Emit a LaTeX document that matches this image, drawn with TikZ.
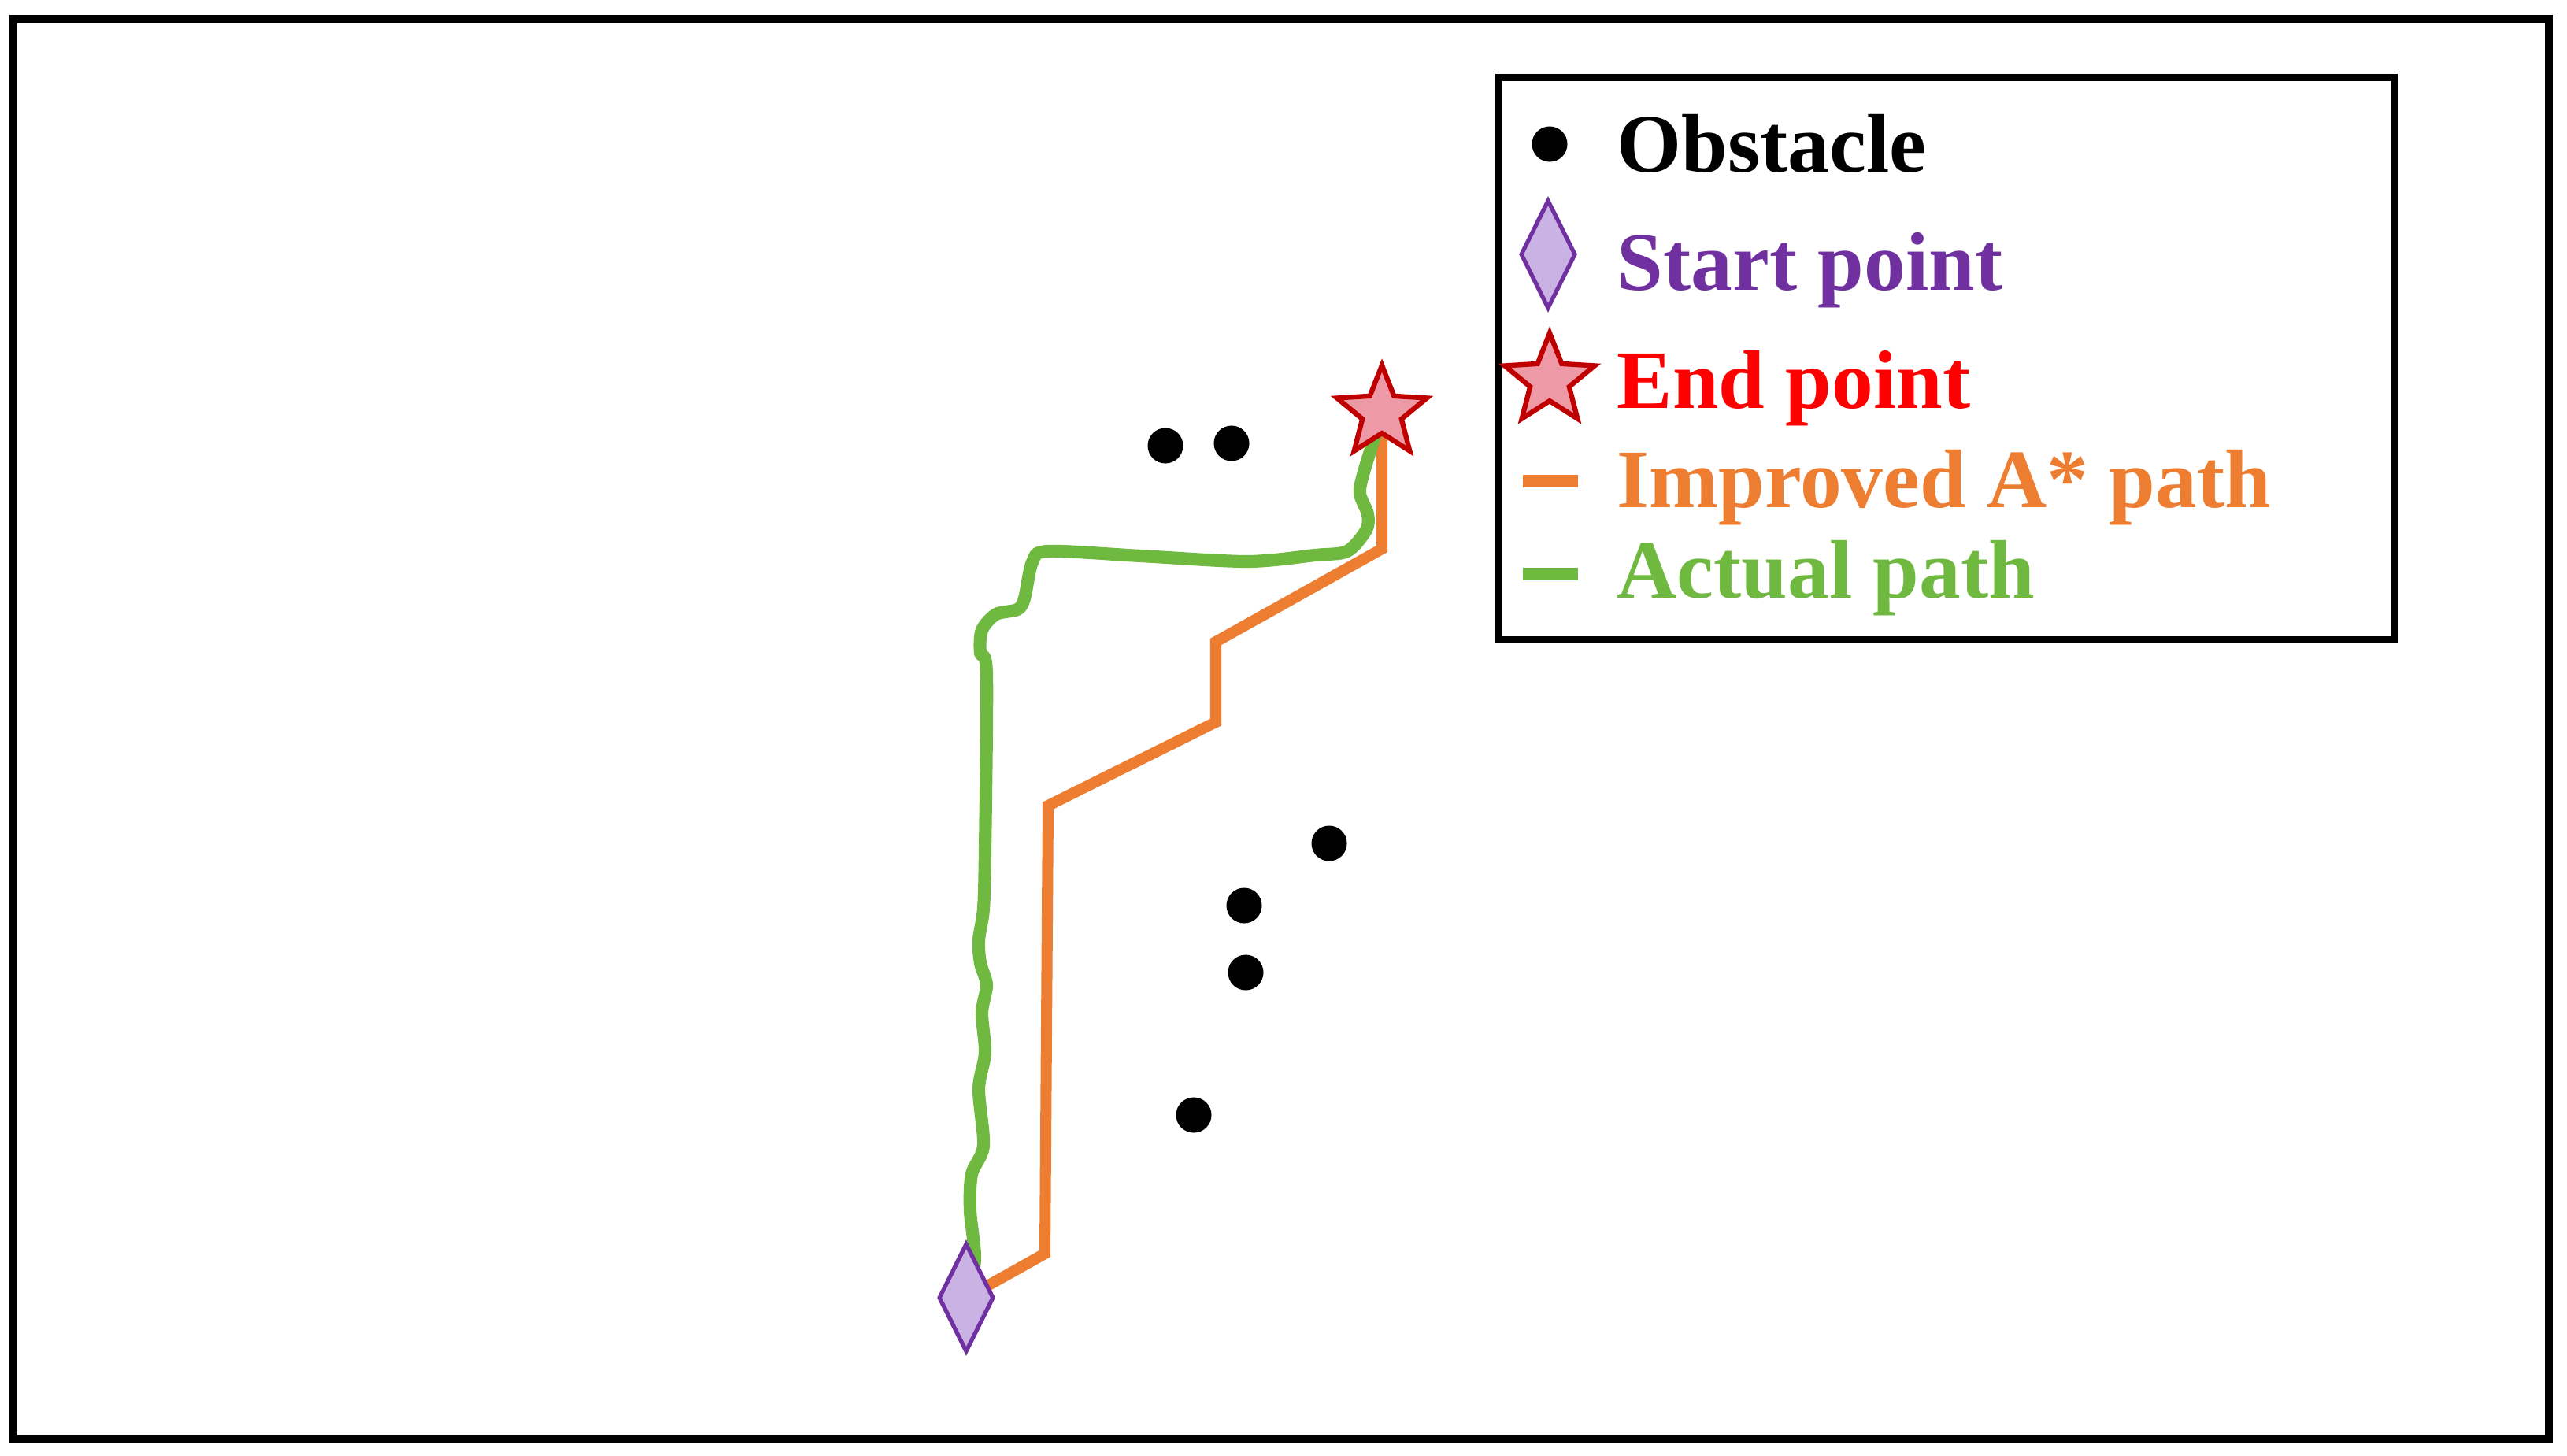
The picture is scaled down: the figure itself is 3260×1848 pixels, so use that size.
\documentclass[tikz,border=0pt]{standalone}
\usepackage{fontspec}
\setmainfont{Liberation Serif}
\usetikzlibrary{shapes.geometric,backgrounds}
\definecolor{pathorange}{HTML}{ED7D31}
\definecolor{pathgreen}{HTML}{70B941}
\definecolor{startline}{HTML}{7030A0}
\definecolor{startfill}{HTML}{CBB2E4}
\definecolor{endline}{HTML}{C00000}
\definecolor{endfill}{HTML}{EE9AA6}
\begin{document}
\begin{tikzpicture}[x=0.01cm,y=-0.01cm,
  obst/.style={circle, fill=black, inner sep=0pt, minimum size=0.45cm},
  startpt/.style={diamond, draw=startline, fill=startfill, line width=1.5pt, inner sep=0pt, minimum width=0.7cm, minimum height=1.38cm},
  endpt/.style={star, star points=5, star point ratio=2.3, draw=endline, fill=endfill, line width=1.8pt, inner sep=0pt, minimum size=1.2cm},
  legtext/.style={anchor=base west, inner sep=0pt, font=\fontsize{30}{36}\selectfont\bfseries},
  astar/.style={pathorange, line width=4pt},
  actual/.style={pathgreen, line width=4.6pt, line cap=round, line join=round}]
\useasboundingbox (0,0) rectangle (3260,1848);
\draw[line width=2.8pt] (17,24) rectangle (3237,1827);

\node[startpt] (start) at (1227,1648) {};
\node[endpt] (end) at (1755,524) {};
\node[obst] (o1) at (1480,566) {};
\node[obst] (o2) at (1564,563) {};
\node[obst] (o3) at (1688,1071) {};
\node[obst] (o4) at (1580,1150) {};
\node[obst] (o5) at (1582,1235) {};
\node[obst] (o6) at (1516,1416) {};

\begin{pgfonlayer}{background}
\draw[astar] (start.center) -- (1327,1592) -- (1331,1023) -- (1544,917) -- (1544,815) -- (1755,697) -- (end.center);
\draw[actual] plot[smooth, tension=0.5] coordinates {(start.center) (1238,1600) (1232,1537) (1234,1491) (1249,1455) (1243,1383) (1251,1337) (1247,1286) (1253,1251) (1245,1223) (1243,1194) (1249,1154) (1251,1080) (1253,857) (1245,829) (1247,800) (1265,780) (1292,774) (1301,760) (1311,714) (1331,700) (1449,706) (1584,713) (1670,705) (1711,700) (1735,673) (1737,653) (1727,627) (1731,603) (1745,557) (end.center)};
\end{pgfonlayer}

% legend
\node[draw, line width=2.4pt, inner sep=0pt, minimum width=11.36cm, minimum height=7.13cm] (legend) at (2472,455) {};
\node[obst] (lobst) at (1968,183) {};
\node[startpt] (lstart) at (1966,323) {};
\node[endpt] (lend) at (1968,483) {};
\coordinate (la1) at (1934,611);
\coordinate (la2) at (2004,611);
\coordinate (lg1) at (1934,729);
\coordinate (lg2) at (2004,729);
\draw[pathorange, line width=4.5pt] (la1) -- (la2);
\draw[pathgreen, line width=4.5pt] (lg1) -- (lg2);
\node[legtext] (tobst) at (2053,218) {Obstacle};
\node[legtext, text=startline] (tstart) at (2053,368) {Start point};
\node[legtext, text=red] (tend) at (2053,518) {End point};
\node[legtext, text=pathorange] (tastar) at (2053,644) {Improved A* path};
\node[legtext, text=pathgreen] (tactual) at (2053,759) {Actual path};
\end{tikzpicture}
\end{document}
